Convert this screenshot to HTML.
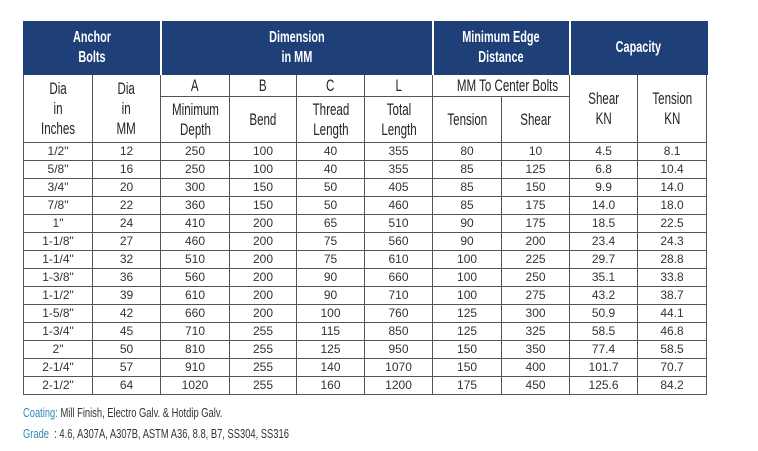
<!DOCTYPE html>
<html><head><style>
html,body{margin:0;padding:0;width:758px;height:451px;background:#fff;overflow:hidden}
table{position:absolute;left:23px;top:21px;border-collapse:collapse;table-layout:fixed;width:683px}
td{border:1px solid #555;text-align:center;padding:0;color:#222;font-family:"Liberation Sans",sans-serif;font-size:15px;line-height:15px;overflow:hidden;white-space:nowrap}
.c{display:inline-block;transform:scaleX(.68);transform-origin:center}
tr.h1 td{background:#1f3f78;color:#fff;height:52px;border-color:#1f3f78;border-right:2px solid #fff;font-size:16px;line-height:20px;font-weight:bold}
tr.h1 td:last-child{border-right-color:#1f3f78}
tr.h2 td{height:21px;font-size:17px}
tr.h3 td{height:45px;font-size:17px;line-height:20px}
td.big{font-size:17px;line-height:20px}
tr.d td{height:17px;font-size:12px;line-height:17px;color:#333}
.f{position:absolute;left:23px;font-family:"Liberation Sans",sans-serif;font-size:13px;color:#333;transform:scaleX(.72);transform-origin:left;white-space:nowrap}
.f b{font-weight:normal;color:#2a8ab8}
</style></head><body>
<table>
<colgroup><col style="width:69px"><col style="width:68px"><col style="width:69px"><col style="width:67px"><col style="width:68px"><col style="width:68px"><col style="width:69px"><col style="width:68px"><col style="width:68px"><col style="width:69px"></colgroup>
<tr class="h1"><td colspan="2"><span class="c">Anchor<br>Bolts</span></td><td colspan="4"><span class="c">Dimension<br>in MM</span></td><td colspan="2"><span class="c">Minimum Edge<br>Distance</span></td><td colspan="2"><span class="c">Capacity</span></td></tr>
<tr class="h2"><td rowspan="2" class="big"><span class="c">Dia<br>in<br>Inches</span></td><td rowspan="2" class="big"><span class="c">Dia<br>in<br>MM</span></td><td><span class="c">A</span></td><td><span class="c">B</span></td><td><span class="c">C</span></td><td><span class="c">L</span></td><td colspan="2"><span class="c">MM To Center Bolts</span></td><td rowspan="2" class="big"><span class="c">Shear<br>KN</span></td><td rowspan="2" class="big"><span class="c">Tension<br>KN</span></td></tr>
<tr class="h3"><td><span class="c">Minimum<br>Depth</span></td><td><span class="c">Bend</span></td><td><span class="c">Thread<br>Length</span></td><td><span class="c">Total<br>Length</span></td><td><span class="c">Tension</span></td><td><span class="c">Shear</span></td></tr>
<tr class="d"><td>1/2"</td><td>12</td><td>250</td><td>100</td><td>40</td><td>355</td><td>80</td><td>10</td><td>4.5</td><td>8.1</td></tr>
<tr class="d"><td>5/8"</td><td>16</td><td>250</td><td>100</td><td>40</td><td>355</td><td>85</td><td>125</td><td>6.8</td><td>10.4</td></tr>
<tr class="d"><td>3/4"</td><td>20</td><td>300</td><td>150</td><td>50</td><td>405</td><td>85</td><td>150</td><td>9.9</td><td>14.0</td></tr>
<tr class="d"><td>7/8"</td><td>22</td><td>360</td><td>150</td><td>50</td><td>460</td><td>85</td><td>175</td><td>14.0</td><td>18.0</td></tr>
<tr class="d"><td>1"</td><td>24</td><td>410</td><td>200</td><td>65</td><td>510</td><td>90</td><td>175</td><td>18.5</td><td>22.5</td></tr>
<tr class="d"><td>1-1/8"</td><td>27</td><td>460</td><td>200</td><td>75</td><td>560</td><td>90</td><td>200</td><td>23.4</td><td>24.3</td></tr>
<tr class="d"><td>1-1/4"</td><td>32</td><td>510</td><td>200</td><td>75</td><td>610</td><td>100</td><td>225</td><td>29.7</td><td>28.8</td></tr>
<tr class="d"><td>1-3/8"</td><td>36</td><td>560</td><td>200</td><td>90</td><td>660</td><td>100</td><td>250</td><td>35.1</td><td>33.8</td></tr>
<tr class="d"><td>1-1/2"</td><td>39</td><td>610</td><td>200</td><td>90</td><td>710</td><td>100</td><td>275</td><td>43.2</td><td>38.7</td></tr>
<tr class="d"><td>1-5/8"</td><td>42</td><td>660</td><td>200</td><td>100</td><td>760</td><td>125</td><td>300</td><td>50.9</td><td>44.1</td></tr>
<tr class="d"><td>1-3/4"</td><td>45</td><td>710</td><td>255</td><td>115</td><td>850</td><td>125</td><td>325</td><td>58.5</td><td>46.8</td></tr>
<tr class="d"><td>2"</td><td>50</td><td>810</td><td>255</td><td>125</td><td>950</td><td>150</td><td>350</td><td>77.4</td><td>58.5</td></tr>
<tr class="d"><td>2-1/4"</td><td>57</td><td>910</td><td>255</td><td>140</td><td>1070</td><td>150</td><td>400</td><td>101.7</td><td>70.7</td></tr>
<tr class="d"><td>2-1/2"</td><td>64</td><td>1020</td><td>255</td><td>160</td><td>1200</td><td>175</td><td>450</td><td>125.6</td><td>84.2</td></tr>
</table>
<div class="f" style="top:405px"><b>Coating:</b> Mill Finish, Electro Galv. &amp; Hotdip Galv.</div>
<div class="f" style="top:426px"><b>Grade</b> &nbsp;: 4.6, A307A, A307B, ASTM A36, 8.8, B7, SS304, SS316</div>
</body></html>
